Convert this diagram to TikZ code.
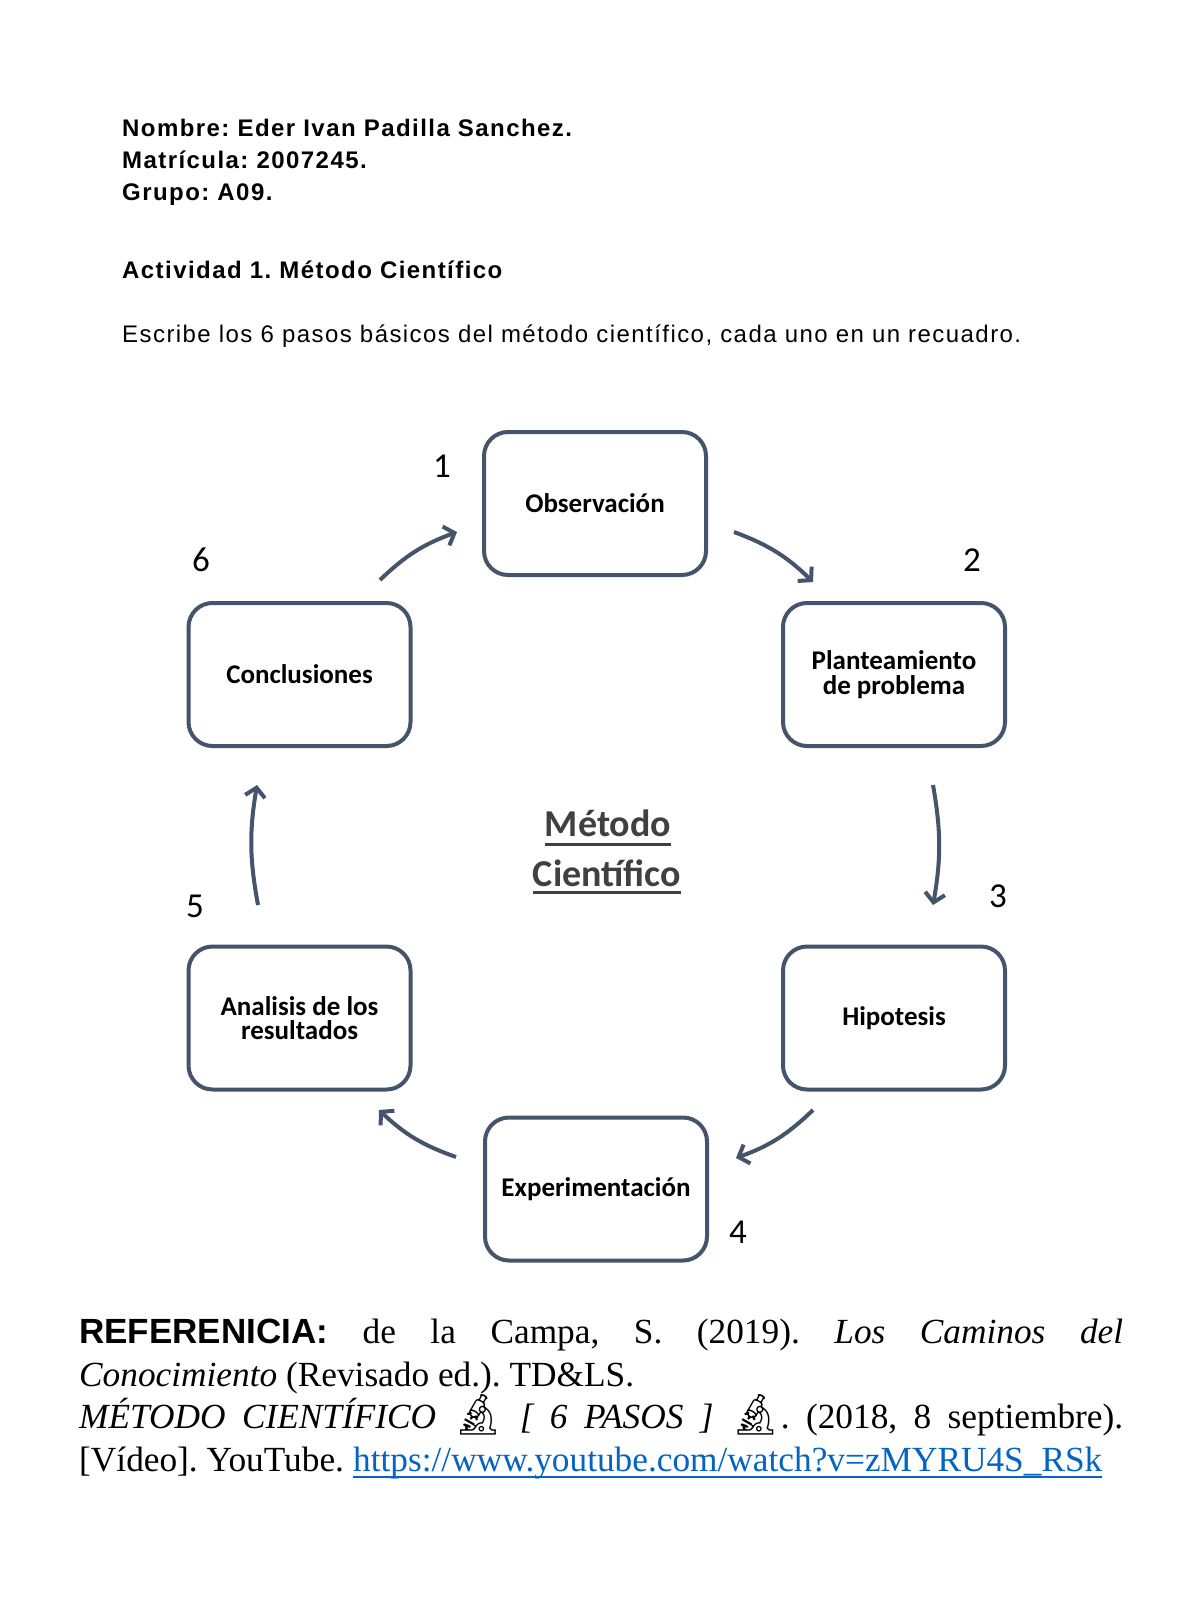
\documentclass[tikz,border=0pt]{standalone}
\usepackage{fontspec}
\setmainfont{Liberation Serif}
\newfontfamily\hdrfont[LetterSpace=6]{Liberation Sans}
\newfontfamily\arialfont{Liberation Sans}
\newfontfamily\calfont{Carlito}
\newfontfamily\emojifont{Noto Emoji}
\usetikzlibrary{arrows.meta}
\definecolor{boxc}{HTML}{44546A}
\definecolor{linkc}{HTML}{0563C1}
\definecolor{midc}{HTML}{404040}
\frenchspacing
\begin{document}
\begin{tikzpicture}[x=1pt,y=-1pt,
  stepbox/.style={draw=boxc, line width=4pt, rounded corners=24pt, minimum width=222pt, minimum height=143pt, align=center, font=\calfont\bfseries\fontsize{27}{24.5}\selectfont, inner sep=0pt},
  num/.style={font=\calfont\fontsize{35}{40}\selectfont, inner sep=0pt},
  arr/.style={draw=boxc, line width=4pt, -{Straight Barb[length=9pt,width=20pt]}},
  hd/.style={anchor=base west, inner sep=0pt, font=\hdrfont\fontsize{24}{28}\selectfont},
  reftext/.style={anchor=base west, inner sep=0pt, font=\fontsize{35.3}{43}\selectfont},
  midtext/.style={anchor=base, inner sep=0pt, text=midc, font=\calfont\bfseries\fontsize{38}{50}\selectfont},
]
\fill[white] (0,0) rectangle (1200,1600);
\useasboundingbox (0,0) rectangle (1200,1600);

% header
\node[hd] (h1) at (122,136.5) {\bfseries Nombre: Eder Ivan Padilla Sanchez.};
\node[hd] (h2) at (122,168) {\bfseries Matrícula: 2007245.};
\node[hd] (h3) at (122,200) {\bfseries Grupo: A09.};
\node[hd] (h4) at (122,278) {\bfseries Actividad 1. Método Científico};
\node[hd] (h5) at (122,342) {Escribe los 6 pasos básicos del método científico, cada uno en un recuadro.};

% boxes
\node[stepbox] (obs) at (595,503.5) {Observación};
\node[stepbox] (plan) at (894,674.5) {Planteamiento\\de problema};
\node[stepbox] (hip) at (894,1018) {Hipotesis};
\node[stepbox] (exp) at (596,1189) {Experimentación};
\node[stepbox] (ana) at (299.5,1018) {Analisis de los\\resultados};
\node[stepbox] (con) at (299.5,674.5) {Conclusiones};

% numbers
\node[num] (n1) at (442,466) {1};
\node[num] (n2) at (972,560) {2};
\node[num] (n3) at (998,896) {3};
\node[num] (n4) at (738,1232) {4};
\node[num] (n5) at (195,906) {5};
\node[num] (n6) at (201,560) {6};

% center title
\node[midtext] (m1) at (608,836) {Método};
\node[midtext] (m2) at (607,886) {Científico};
\draw[midc, line width=3pt] ([yshift=-8pt]m1.base west) -- ([yshift=-8pt]m1.base east);
\draw[midc, line width=3pt] ([yshift=-6pt]m2.base west) -- ([yshift=-6pt]m2.base east);

% arrows
\coordinate (a1s) at (380,580); \coordinate (a1e) at (457,532);
\coordinate (a2s) at (734,532); \coordinate (a2e) at (813,582);
\coordinate (a3s) at (933,785); \coordinate (a3e) at (933,905);
\coordinate (a4s) at (813,1110); \coordinate (a4e) at (736,1158);
\coordinate (a5s) at (456,1157); \coordinate (a5e) at (379,1110);
\coordinate (a6s) at (258,905); \coordinate (a6e) at (257,785);
\draw[arr] (a1s) to[bend left=12] (a1e);
\draw[arr] (a2s) to[bend left=12] (a2e);
\draw[arr] (a3s) to[bend left=10] (a3e);
\draw[arr] (a4s) to[bend left=12] (a4e);
\draw[arr] (a5s) to[bend left=12] (a5e);
\draw[arr] (a6s) to[bend left=10] (a6e);

% references
\node[reftext] (r1) at (79,1343) {\makebox[1044pt][s]{{\arialfont\bfseries\fontsize{35}{40}\selectfont REFERENICIA:} de la Campa, S. (2019). \textit{Los Caminos del}}};
\node[reftext] (r2) at (79,1386) {\textit{Conocimiento} (Revisado ed.). TD\&LS.};
\node[reftext] (r3) at (79,1428) {\makebox[1044pt][s]{\textit{MÉTODO CIENTÍFICO} {\emojifont\fontsize{40}{43}\selectfont 🔬} \textit{[ 6 PASOS ]} {\emojifont\fontsize{40}{43}\selectfont 🔬}. (2018, 8 septiembre).}};
\node[reftext] (r4) at (79,1471) {[Vídeo]. YouTube.};
\node[reftext, text=linkc] (url) at ([xshift=8.8pt]r4.base east) {https://www.youtube.com/watch?v=zMYRU4S\_RSk};
\draw[linkc, line width=2.5pt] ([yshift=-6pt]url.base west) -- ([yshift=-6pt]url.base east);
\end{tikzpicture}
\end{document}
